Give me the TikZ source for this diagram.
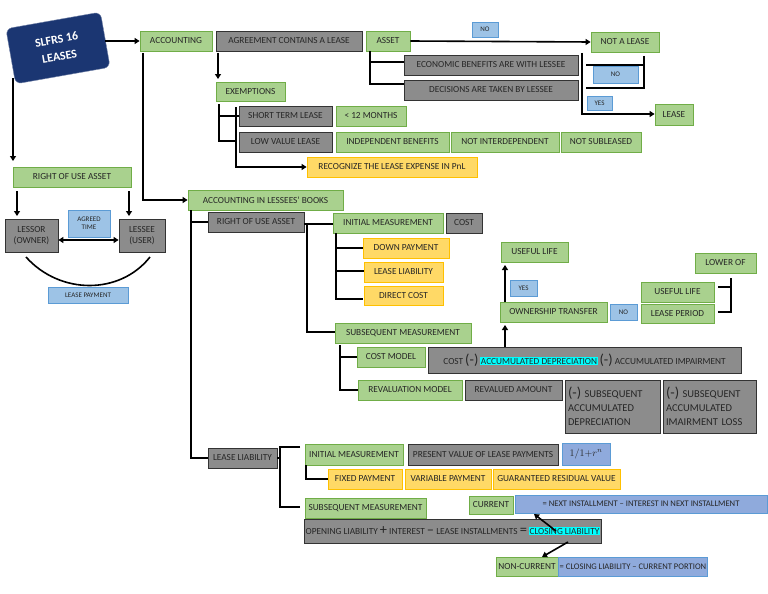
\documentclass[tikz,border=0pt]{standalone}
\usepackage{fontspec}
\setmainfont{Carlito}
\usetikzlibrary{arrows.meta,calc}
\definecolor{gf}{HTML}{A9D18E}\definecolor{gd}{HTML}{70AD47}
\definecolor{kf}{HTML}{8C8C8C}
\definecolor{of}{HTML}{FFD966}\definecolor{od}{HTML}{FFC000}
\definecolor{bf}{HTML}{9DC3E6}\definecolor{bd}{HTML}{5B9BD5}
\definecolor{pf}{HTML}{8FAADC}\definecolor{nv}{HTML}{1B3672}
\definecolor{hl}{HTML}{00FFFF}
\newcommand\bx[7]{\node[#1,minimum width={(#5-#3)*1pt},minimum height={(#6-#4)*1pt}] (#2) at ({(#3+#5)/2},{(#4+#6)/2}) {#7};}
\tikzset{
 base/.style={rectangle,inner sep=1pt,align=center,font=\fontsize{9.3}{10.5}\selectfont,line width=0.8pt,text=black!85},
 g/.style={base,fill=gf,draw=gd},
 k/.style={base,fill=kf,draw=black!80},
 o/.style={base,fill=of,draw=od},
 b/.style={base,fill=bf,draw=bd,font=\fontsize{7}{8}\selectfont},
 p/.style={base,fill=pf,draw=bd},
 ln/.style={line width=1.6pt},
 ar/.style={line width=1.6pt,-{Triangle[length=5pt,width=6pt]}},
}
\setlength\fboxsep{1pt}
\begin{document}
\begin{tikzpicture}[x=1pt,y=-1pt]
\useasboundingbox (0,0) rectangle (768,594);
\node[rotate=10,fill=nv,draw=nv!60,rounded corners=6pt,minimum width=96pt,minimum height=56pt,text=white,font=\bfseries\fontsize{12}{17}\selectfont,align=center] (title) at (58,48) {SLFRS 16\\LEASES};
% top row
\bx{g}{acc}{140}{31}{212}{51}{ACCOUNTING}
\bx{k}{agr}{216}{31}{362}{51}{AGREEMENT CONTAINS A LEASE}
\bx{g}{asset}{366}{31}{410}{51}{ASSET}
\bx{b}{no1}{472}{22}{498}{37}{NO}
\bx{g}{notl}{591}{32}{659}{52}{NOT A LEASE}
\bx{k}{eco}{404}{55}{578}{75}{ECONOMIC BENEFITS ARE WITH LESSEE}
\bx{k}{dec}{404}{80}{578}{100}{DECISIONS ARE TAKEN BY LESSEE}
\bx{b}{no2}{593}{66}{638}{83}{NO}
\bx{b}{yes1}{587}{96}{612}{110}{YES}
\bx{g}{lease}{655}{104}{693}{125}{LEASE}
\bx{g}{exe}{216}{82}{285}{101}{EXEMPTIONS}
\bx{k}{stl}{239}{106}{332}{126}{SHORT TERM LEASE}
\bx{g}{m12}{336}{106}{406}{126}{< 12 MONTHS}
\bx{k}{lvl}{239}{132}{332}{152}{LOW VALUE LEASE}
\bx{g}{ind}{336}{132}{449}{152}{INDEPENDENT BENEFITS}
\bx{g}{noti}{451}{132}{559}{152}{NOT INTERDEPENDENT}
\bx{g}{nots}{561}{132}{641}{152}{NOT SUBLEASED}
\bx{o}{rec}{307}{157}{477}{177}{RECOGNIZE THE LEASE EXPENSE IN PnL}
\draw[ar] (title.east|-acc) -- (acc.west);
\draw[ar] (asset.east) -- (notl.west);
\draw[ln] (370,51) -- (370,84) -- (dec.west|-0,84);
\draw[ln] (370,62) -- (eco.west|-0,62);
\draw[ln] (586,65) -- (644,65) (644,56) -- (644,88) -- (586,88);
\draw[ar] (582,53) -- (582,114) -- (lease.west|-0,114);
\draw[ar] (218,53) -- (218,79);
\draw[ln] (219,104) -- (219,141) -- (236,141) (219,116) -- (stl.west|-0,116);
\draw[ar] (236,107) -- (236,167) -- (rec.west|-0,167);
% left part
\bx{g}{rou0}{13}{167}{131}{187}{RIGHT OF USE ASSET}
\bx{k}{lessor}{5}{219}{58}{252}{LESSOR\\(OWNER)}
\bx{k}{lessee}{119}{219}{165}{252}{LESSEE\\(USER)}
\bx{b}{agt}{68}{210}{110}{237}{AGREED\\TIME}
\bx{b}{lp}{48}{287}{128}{303}{LEASE PAYMENT}
\draw[ar] (13,78) -- (13,161);
\draw[ar] (17,191) -- (17,216);
\draw[ar] (129,191) -- (129,216);
\draw[line width=1.6pt,{Triangle[length=5pt,width=6pt]}-{Triangle[length=5pt,width=6pt]}] (lessor.east|-0,240) -- (lessee.west|-0,240);
\draw[ln] (26,257) .. controls (60,295) and (120,295) .. (150,257);
% lessee books
\bx{g}{alb}{188}{190}{343}{210}{ACCOUNTING IN LESSEES' BOOKS}
\draw[ar] (143,53) -- (143,200) -- (alb.west|-0,200);
\bx{k}{rou}{208}{212}{304}{232}{RIGHT OF USE ASSET}
\bx{k}{ll}{208}{448}{277}{468}{LEASE LIABILITY}
\draw[ln] (191,210) -- (191,458) -- (ll.west) (191,222) -- (rou.west|-0,222);
\bx{g}{im1}{333}{213}{443}{233}{INITIAL MEASUREMENT}
\bx{k}{cost}{446}{213}{482}{233}{COST}
\bx{o}{dp}{363}{238}{449}{258}{DOWN PAYMENT}
\bx{o}{lli}{364}{262}{443}{282}{LEASE LIABILITY}
\bx{o}{dc}{364}{286}{443}{305}{DIRECT COST}
\bx{g}{sm1}{335}{323}{471}{343}{SUBSEQUENT MEASUREMENT}
\draw[ln] (rou.east|-0,224) -- (im1.west|-0,224) (307,224) -- (307,332) -- (sm1.west|-0,332);
\draw[ln] (336,233) -- (336,299) -- (dp.west|-0,299) (336,248) -- (dp.west|-0,248) (336,271) -- (lli.west|-0,271);
\bx{g}{ul1}{501}{242}{568}{262}{USEFUL LIFE}
\bx{b}{yes2}{510}{280}{537}{296}{YES}
\bx{g}{own}{500}{302}{607}{322}{OWNERSHIP TRANSFER}
\bx{b}{no3}{610}{304}{637}{320}{NO}
\bx{g}{ul2}{641}{282}{714}{302}{USEFUL LIFE}
\bx{g}{lpd}{641}{304}{714}{323}{LEASE PERIOD}
\bx{g}{low}{695}{253}{756}{273}{LOWER OF}
\draw[ar] (505,302) -- (505,265);
\draw[ln] (718,287) -- (731,287) -- (731,312) -- (718,312) (731,278) -- (731,287);
\bx{g}{cm}{357}{347}{425}{367}{COST MODEL}
\bx{k}{cf}{428}{347}{741}{373}{COST {\Large(-)}\,\colorbox{hl}{ACCUMULATED DEPRECIATION}\,{\Large(-)} ACCUMULATED IMPAIRMENT}
\bx{g}{rm}{358}{380}{462}{400}{REVALUATION MODEL}
\bx{k}{ra}{465}{380}{562}{400}{REVALUED AMOUNT}
\node[k,align=left,font=\fontsize{10.5}{14}\selectfont,minimum width=95pt,minimum height=53pt,text width=89pt] (sd) at (612.5,406.5) {{\Large(-)} SUBSEQUENT\\ACCUMULATED\\DEPRECIATION};
\node[k,align=left,font=\fontsize{10.5}{14}\selectfont,minimum width=93pt,minimum height=53pt,text width=87pt] (si) at (709.5,406.5) {{\Large(-)} SUBSEQUENT\\ACCUMULATED\\IMAIRMENT LOSS};
\draw[ar] (505,347) -- (505,325);
\draw[ln] (340,345) -- (340,390) -- (rm.west|-0,390) (340,357) -- (cm.west|-0,357);
% lease liability
\bx{g}{im2}{305}{444}{403}{465}{INITIAL MEASUREMENT}
\bx{k}{pv}{408}{444}{558}{465}{PRESENT VALUE OF LEASE PAYMENTS}
\node[p,minimum width=48pt,minimum height=22pt,font=\fontsize{10}{11}\selectfont] (fr) at (586,454) {$1/1{+}r^{n}$};
\bx{o}{fp}{328}{469}{402}{489}{FIXED PAYMENT}
\bx{o}{vp}{405}{469}{491}{489}{VARIABLE PAYMENT}
\bx{o}{grv}{493}{469}{620}{489}{GUARANTEED RESIDUAL VALUE}
\bx{g}{sm2}{305}{498}{426}{518}{SUBSEQUENT MEASUREMENT}
\bx{g}{cur}{469}{496}{513}{514}{CURRENT}
\node[p,minimum width=252pt,minimum height=18pt,font=\fontsize{8.6}{9}\selectfont] (curf) at (641,504) {= NEXT INSTALLMENT -- INTEREST IN NEXT INSTALLMENT};
\bx{k}{of}{306}{519}{600}{543}{OPENING LIABILITY {\Large +} INTEREST {\Large --} LEASE INSTALLMENTS {\Large =}\,\colorbox{hl}{CLOSING LIABILITY}}
\bx{g}{nc}{496}{557}{558}{576}{NON-CURRENT}
\node[p,minimum width=148pt,minimum height=19pt,font=\fontsize{8.6}{9}\selectfont] (ncf) at (633,566.5) {= CLOSING LIABILITY -- CURRENT PORTION};
\draw[ln] (ll.east) -- (280,458) (300,447) -- (280,447) -- (280,507) -- (300,507);
\draw[ln] (306,465) -- (306,479) -- (fp.west|-0,479);
\draw[ar] (556,531) -- (534,514);
\draw[ar] (568,542) -- (542,557);
\end{tikzpicture}
\end{document}
